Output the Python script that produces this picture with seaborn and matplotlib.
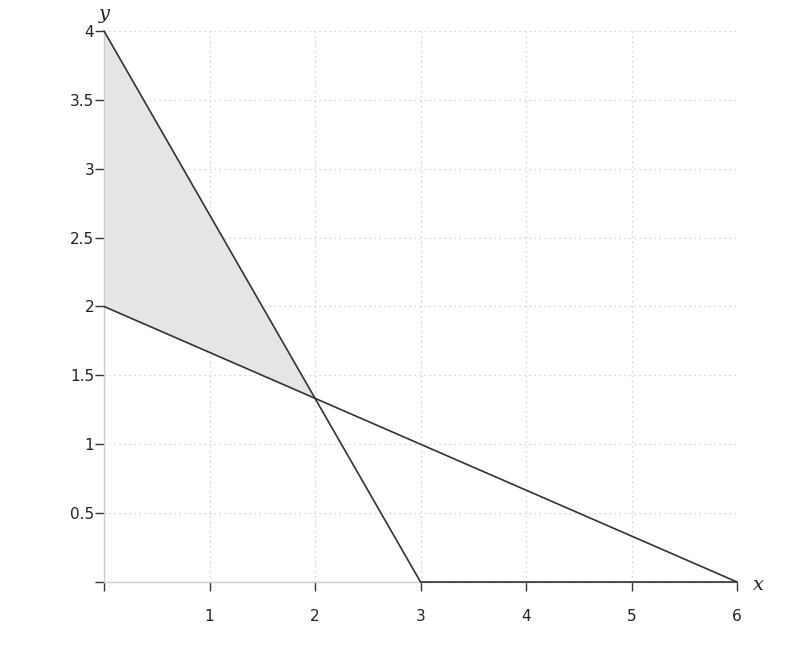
import matplotlib
matplotlib.use("Agg")
import matplotlib.pyplot as plt
import seaborn as sns
import pandas as pd

# Data
line1_x = [0, 3]
line1_y = [4, 0]
line2_x = [0, 6]
line2_y = [2, 0]
base_x = [3, 6]
base_y = [0, 0]
shade_x = [0, 2]
shade_upper = [4, 4 / 3]
shade_lower = [2, 4 / 3]
x_ticks = [0, 1, 2, 3, 4, 5, 6]
x_labels = ["", "1", "2", "3", "4", "5", "6"]
y_ticks = [0, 0.5, 1, 1.5, 2, 2.5, 3, 3.5, 4]
y_labels = ["", "0.5", "1", "1.5", "2", "2.5", "3", "3.5", "4"]

sns.set_style("white")
plt.rcParams["font.family"] = ["DejaVu Sans"]
fig = plt.figure(figsize=(8.07, 6.47), dpi=100)
ax = fig.add_axes([0.1289, 0.1005, 0.7844, 0.8516])

ax.fill_between(shade_x, shade_lower, shade_upper, color="#e5e5e5", lw=0, zorder=1)

lc = "#333333"
for xs, ys in [(line1_x, line1_y), (line2_x, line2_y), (base_x, base_y)]:
    df = pd.DataFrame({"x": xs, "y": ys})
    sns.lineplot(data=df, x="x", y="y", ax=ax, color=lc, lw=1.2, zorder=3,
                 estimator=None, sort=False)
for l in ax.lines:
    l.set_clip_on(False)

ax.set_xlim(0, 6)
ax.set_ylim(0, 4)
ax.set_xticks(x_ticks)
ax.set_xticklabels(x_labels)
ax.set_yticks(y_ticks)
ax.set_yticklabels(y_labels)
ax.grid(True, color="#c8c8c8", linestyle=(0, (1, 3)), lw=0.9, zorder=0)
ax.set_axisbelow(True)
ax.tick_params(axis="both", direction="out", length=6.5, width=1, color="#333333",
               labelsize=11, labelcolor="#222222", bottom=True, left=True)
ax.tick_params(axis="x", pad=13)
ax.tick_params(axis="y", pad=0.5)
for s in ["top", "right"]:
    ax.spines[s].set_visible(False)
for s in ["left", "bottom"]:
    ax.spines[s].set_color("#cccccc")
    ax.spines[s].set_linewidth(1)
ax.set_xlabel("")
ax.set_ylabel("")
ax.text(6.2, -0.02, "x", fontsize=14, family="DejaVu Serif", style="italic",
        ha="center", va="center", color="#222222")
ax.text(0, 4.12, "y", fontsize=14, family="DejaVu Serif", style="italic",
        ha="center", va="center", color="#222222")

fig.savefig("out.png", dpi=100)
